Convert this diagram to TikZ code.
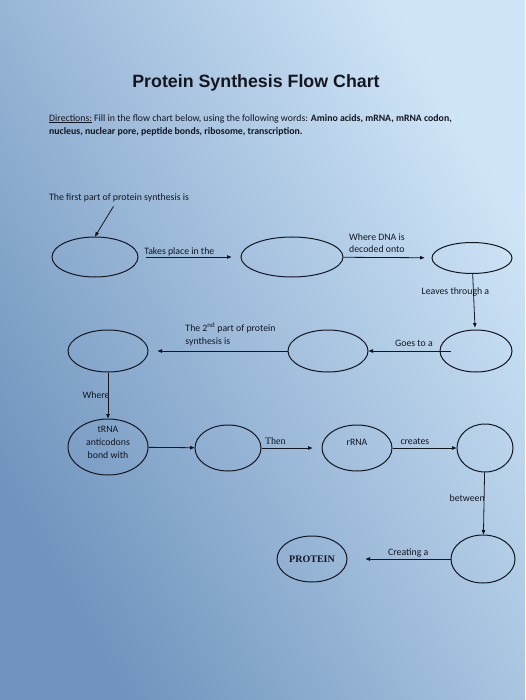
\documentclass[tikz,border=0pt]{standalone}
\usepackage{fontspec}
\setmainfont{Carlito}
\newfontfamily\titlefont{Liberation Sans}
\newfontfamily\timesfont{Liberation Serif}
\usetikzlibrary{shapes.geometric,arrows.meta}
\definecolor{bgdark}{RGB}{112,148,190}
\definecolor{bgmid}{RGB}{168,198,228}
\definecolor{bglight}{RGB}{208,230,248}
\definecolor{ink}{RGB}{20,22,32}
\tikzset{
  blob/.style={draw=ink, ellipse, line width=1pt, inner sep=0pt},
  flow/.style={draw=ink, line width=0.8pt, -{Triangle[length=4.5pt,width=3.5pt]}},
  word/.style={font=\fontsize{9.8}{13}\selectfont, text=ink, inner sep=1pt},
}
\begin{document}
\begin{tikzpicture}[x=1pt,y=-1pt]
\shade[left color=bgdark,middle color=bgmid,right color=bglight,shading angle=120] (0,0) rectangle (525,700);
\useasboundingbox (0,0) rectangle (525,700);

\node[text=ink,anchor=base,font=\titlefont\bfseries\fontsize{17.8}{20}\selectfont] (title) at (256,88) {Protein Synthesis Flow Chart};
\node[word,anchor=north west,align=left] (dir) at (48,113) {\underline{Directions:} Fill in the flow chart below, using the following words: \textbf{Amino acids, mRNA, mRNA codon,}\\\textbf{nucleus, nuclear pore, peptide bonds, ribosome, transcription.}};
\node[word,anchor=base west] (first) at (48,201) {The first part of protein synthesis is};

\node[blob, minimum width=86, minimum height=40] (1) at (95,257) {};
\node[blob, minimum width=102, minimum height=40] (2) at (292,257) {};
\node[blob, minimum width=80, minimum height=31] (3) at (472,258) {};
\node[blob, minimum width=72, minimum height=42] (4) at (476,351) {};
\node[blob, minimum width=80, minimum height=42] (5) at (328,351) {};
\node[blob, minimum width=80, minimum height=42] (6) at (108,351) {};
\node[blob, minimum width=80, minimum height=56, label={[word,align=center,yshift=5pt]center:{tRNA\\anticodons\\bond with}}] (7) at (108,447) {};
\node[blob, minimum width=66, minimum height=46] (8) at (228,448) {};
\node[blob, minimum width=70, minimum height=46, label={[word,yshift=6pt]center:rRNA}] (9) at (357,448) {};
\node[blob, minimum width=56, minimum height=48] (10) at (485,448) {};
\node[blob, minimum width=64, minimum height=48] (11) at (483,559) {};
\node[blob, minimum width=70, minimum height=46, font=\timesfont\bfseries\fontsize{10}{12}\selectfont, text=ink] (12) at (312,559) {PROTEIN};

\draw[flow, shorten <=3pt] ([xshift=-4pt]first.south) -- (1.north);
\path[flow] (1) edge [shorten <=7pt, shorten >=9pt] node[word,above,pos=0.4] {Takes place in the} (2);
\path[flow] (2) edge [shorten >=7pt] node[word,above,pos=0.38,yshift=3pt,align=left] {Where DNA is\\decoded onto} (3);
\path[flow] (3) edge [shorten >=2pt] node[word,pos=0.32,xshift=-18pt] {Leaves through a} (4);
\path[flow] (4) edge [shorten <=-11pt] node[word,above,pos=0.36,yshift=3pt] {Goes to a} (5);
\path[flow] (5) edge [shorten >=9pt] node[word,above,pos=0.41,yshift=4pt,align=left] {The 2\textsuperscript{nd} part of protein\\synthesis is} (6);
\path[flow] (6) edge node[word,anchor=east,pos=0.5,xshift=3pt] {Where} (7);
\path[flow] (7) edge (8);
\path[flow] (8) edge [shorten >=9pt] node[word,above,pos=0.23,yshift=2pt,font=\timesfont\fontsize{10}{12}\selectfont] {Then} (9);
\path[flow] (9) edge node[word,above,pos=0.35,yshift=2pt] {creates} (10);
\path[flow] (10) edge node[word,anchor=east,pos=0.42,xshift=2pt] {between} (11);
\path[flow] (11) edge [shorten >=18pt] node[word,above,pos=0.41] {Creating a} (12);
\end{tikzpicture}
\end{document}
